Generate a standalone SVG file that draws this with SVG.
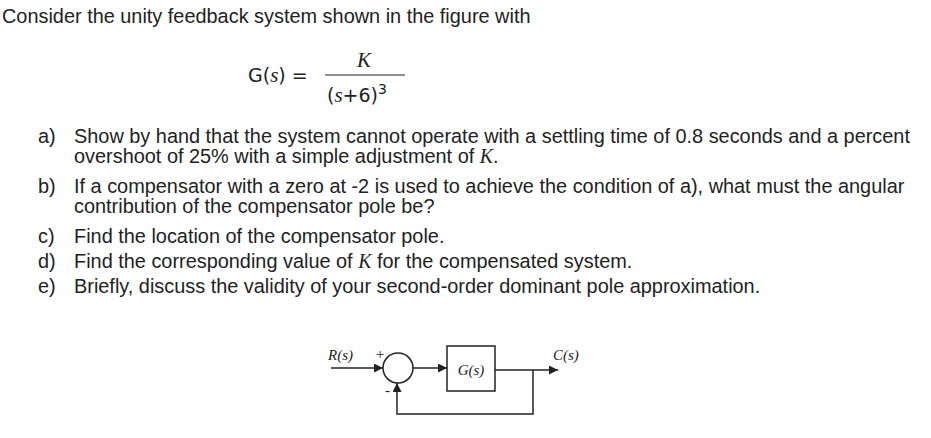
<svg xmlns="http://www.w3.org/2000/svg" width="931" height="438" viewBox="0 0 931 438">
<defs>
<style>
.t{font-family:"Liberation Sans",Arial,sans-serif;font-size:19.9px;fill:#222}
.m{font-family:"Liberation Serif",serif;font-style:italic;fill:#222}
.c{font-family:"DejaVu Sans",sans-serif;fill:#222}
.l{stroke:#222;stroke-width:1.5;fill:none}
.bl{font-family:"Liberation Serif",serif;font-style:italic;font-size:15px;fill:#222}
</style>
<marker id="a" viewBox="0 0 10 10" refX="10" refY="5" markerWidth="9" markerHeight="9" markerUnits="userSpaceOnUse" orient="auto"><path d="M0,0 L10,5 L0,10 z" fill="#222"/></marker>
</defs>
<rect width="931" height="438" fill="#fff"/>
<text class="t" x="2" y="23">Consider the unity feedback system shown in the figure with</text>
<g id="eq">
<text class="c" x="248" y="82" font-size="19">G(<tspan class="m" font-size="21">s</tspan>) =</text>
<text class="m" x="357" y="67" font-size="21">K</text>
<line x1="325" y1="75" x2="405" y2="75" stroke="#222" stroke-width="1.2"/>
<text class="c" x="327" y="102" font-size="19">(<tspan class="m" font-size="21">s</tspan>+6)<tspan dy="-8" font-size="14">3</tspan></text>
</g>
<text class="t" x="38" y="143">a)</text><text class="t" x="74" y="143">Show by hand that the system cannot operate with a settling time of 0.8 seconds and a percent</text>
<text class="t" x="74" y="163">overshoot of 25% with a simple adjustment of <tspan class="m">K</tspan>.</text>
<text class="t" x="38" y="193">b)</text><text class="t" x="74" y="193">If a compensator with a zero at -2 is used to achieve the condition of a), what must the angular</text>
<text class="t" x="74" y="213">contribution of the compensator pole be?</text>
<text class="t" x="38" y="243">c)</text><text class="t" x="74" y="243">Find the location of the compensator pole.</text>
<text class="t" x="38" y="268">d)</text><text class="t" x="74" y="268">Find the corresponding value of <tspan class="m">K</tspan> for the compensated system.</text>
<text class="t" x="38" y="293">e)</text><text class="t" x="74" y="293">Briefly, discuss the validity of your second-order dominant pole approximation.</text>
<g id="sum"><circle class="l" cx="398" cy="368" r="15"/><text class="bl" x="375" y="359">+</text><text class="bl" x="385" y="395">-</text></g>
<g id="G"><rect class="l" x="447" y="346" width="48" height="45"/><text class="bl" x="471" y="375" text-anchor="middle" font-size="17">G(s)</text></g>
<text class="bl" x="328" y="360">R(s)</text>
<text class="bl" x="553" y="360">C(s)</text>
<g id="connectors">
<line class="l" x1="331" y1="368" x2="383" y2="368" marker-end="url(#a)"/>
<line class="l" x1="413" y1="368" x2="447" y2="368" marker-end="url(#a)"/>
<line class="l" x1="495" y1="370" x2="558" y2="370" marker-end="url(#a)"/>
<polyline class="l" points="533,370 533,414 397,414 397,383" marker-end="url(#a)"/>
</g>
</svg>
